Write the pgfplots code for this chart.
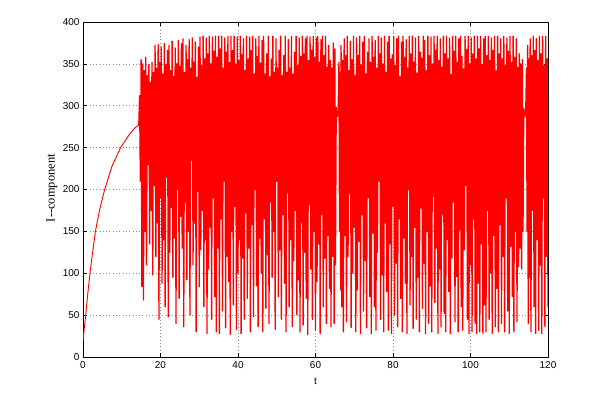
\documentclass[border=0pt]{standalone}
\usepackage{fontspec}
\setmainfont{Liberation Sans}
\newfontfamily\serifl{Liberation Serif}
\usepackage{pgfplots}
\pgfplotsset{compat=1.18}
\begin{document}
\begin{tikzpicture}
\useasboundingbox (-83bp,-44bp) rectangle (528bp,357bp);
\begin{axis}[
  scale only axis, width=465bp, height=335bp,
  xmin=0, xmax=120, ymin=0, ymax=400,
  xtick={0,20,...,120}, ytick={0,50,...,400},
  grid=major,
  major grid style={black!45, dash pattern=on 0.7bp off 2.6bp, line width=0.5bp},
  tick align=inside, major tick length=4bp,
  tick style={black, line width=0.5bp},
  axis line style={black, line width=0.8bp},
  ticklabel style={font=\fontsize{10}{12}\selectfont},
  xticklabel style={yshift=-1.5bp},
  /pgf/number format/assume math mode=true,
  xlabel={t}, ylabel={\serifl I--component},
  xlabel style={at={(axis description cs:0.5,-0.0716)}, anchor=center, font=\fontsize{10}{12}\selectfont},
  ylabel style={at={(axis description cs:-0.0667,0.504)}, anchor=center, font=\fontsize{12.5}{14}\selectfont},
]
\addplot[red, line width=0.9bp, line join=round, mark=none] coordinates {
(0,20)(0.3,33)(0.7,50)(1.2,74)(1.8,100)(2.4,122)(3.2,150)(4.3,176)(5.6,200)(7.5,228)(9.7,250)(12,266)(13.5,274)(14.4,277)
};
\addplot[red, line width=1.3bp, line join=round, mark=none] coordinates {
(14.4,277)
(14.6,312)(14.8,210)(15.0,355)(15.2,84)(15.4,350)(15.6,68)(15.8,342)(16.0,150)(16.2,358)(16.4,110)
(16.6,336)(16.8,230)(17.0,349)(17.2,135)(17.4,328)(17.6,175)(17.8,352)(18.0,98)(18.2,340)(18.4,205)
(18.6,372)(18.8,120)(19.0,345)(19.2,160)(19.4,373)(19.6,45)(19.8,352)(20.0,190)(20.2,370)(20.4,88)
(20.6,338)(20.8,140)(21.0,374)(21.2,60)(21.4,349)(21.6,215)(21.8,366)(22.0,48)(22.2,372)(22.4,125)
(22.6,342)(22.8,178)(23.0,377)(23.2,95)(23.4,335)(23.6,142)(23.8,369)(24.0,40)(24.2,350)(24.4,200)
(24.6,378)(24.8,70)(25.0,347)(25.2,168)(25.4,374)(25.6,130)(25.8,380)(26.0,36)(26.2,340)(26.4,185)
(26.6,372)(26.8,92)(27.0,355)(27.2,150)(27.4,379)(27.6,50)(27.8,345)(28.0,235)(28.2,381)(28.4,110)
(28.6,352)(28.8,160)(29.0,376)(29.2,30)(29.4,334)(29.6,198)(29.8,370)(30.0,84)(30.2,382)(30.4,128)
(30.6,348)(30.8,175)(31.0,383)(31.2,60)(31.4,356)(31.6,140)(31.8,381)(32.0,28)(32.2,362)(32.4,105)
(32.6,383)(32.8,155)(33.0,350)(33.2,45)(33.4,382)(33.6,190)(33.8,365)(34.0,72)(34.2,383)(34.4,30)
(34.6,358)(34.8,130)(35.0,383)(35.2,28)(35.4,368)(35.6,165)(35.8,383)(36.0,55)(36.2,345)(36.4,210)
(36.6,381)(36.8,35)(37.0,364)(37.2,120)(37.4,383)(37.6,90)(37.8,352)(38.0,27)(38.2,383)(38.4,150)
(38.6,366)(38.8,62)(39.0,383)(39.2,180)(39.4,350)(39.6,33)(39.8,382)(40.0,100)(40.2,354)(40.4,140)
(40.6,383)(40.8,28)(41.0,361)(41.2,118)(41.4,380)(41.6,45)(41.8,342)(42.0,172)(42.2,383)(42.4,70)
(42.6,356)(42.8,130)(43.0,382)(43.2,30)(43.4,366)(43.6,158)(43.8,383)(44.0,48)(44.2,338)(44.4,200)
(44.6,380)(44.8,85)(45.0,359)(45.2,36)(45.4,383)(45.6,142)(45.8,351)(46.0,100)(46.2,378)(46.4,30)
(46.6,383)(46.8,165)(47.0,338)(47.2,58)(47.4,362)(47.6,122)(47.8,383)(48.0,40)(48.2,335)(48.4,185)
(48.6,356)(48.8,95)(49.0,383)(49.2,150)(49.4,340)(49.6,33)(49.8,380)(50.0,210)(50.2,345)(50.4,72)
(50.6,366)(50.8,128)(51.0,383)(51.2,45)(51.4,336)(51.6,170)(51.8,360)(52.0,88)(52.2,383)(52.4,30)
(52.6,340)(52.8,196)(53.0,379)(53.2,60)(53.4,345)(53.6,140)(53.8,383)(54.0,36)(54.2,338)(54.4,115)
(54.6,364)(54.8,175)(55.0,383)(55.2,50)(55.4,348)(55.6,92)(55.8,381)(56.0,30)(56.2,359)(56.4,160)
(56.6,383)(56.8,38)(57.0,362)(57.2,125)(57.4,380)(57.6,70)(57.8,383)(58.0,27)(58.2,354)(58.4,182)
(58.6,382)(58.8,105)(59.0,366)(59.2,45)(59.4,383)(59.6,150)(59.8,358)(60.0,32)(60.2,381)(60.4,90)
(60.6,383)(60.8,135)(61.0,352)(61.2,28)(61.4,379)(61.6,170)(61.8,383)(62.0,60)(62.2,360)(62.4,118)
(62.6,383)(62.8,40)(63.0,346)(63.2,145)(63.4,372)(63.6,82)(63.8,354)(64.0,36)(64.2,345)(64.4,120)
(64.6,375)(64.8,40)(65.0,368)(65.15,110)(65.35,298)(65.6,287)(65.85,294)(66.05,352)(66.2,150)(66.35,340)(66.5,80)
(66.6,372)(66.8,60)(67.0,354)(67.2,30)(67.4,380)(67.6,145)(67.8,360)(68.0,42)(68.2,383)(68.4,120)
(68.6,342)(68.8,195)(69.0,377)(69.2,35)(69.4,355)(69.6,100)(69.8,383)(70.0,155)(70.2,336)(70.4,30)
(70.6,381)(70.8,80)(71.0,360)(71.2,138)(71.4,383)(71.6,28)(71.8,349)(72.0,170)(72.2,376)(72.4,55)
(72.6,383)(72.8,115)(73.0,338)(73.2,35)(73.4,364)(73.6,190)(73.8,380)(74.0,72)(74.2,352)(74.4,28)
(74.6,383)(74.8,148)(75.0,358)(75.2,60)(75.4,378)(75.6,32)(75.8,345)(76.0,125)(76.2,383)(76.4,210)
(76.6,362)(76.8,45)(77.0,381)(77.2,98)(77.4,350)(77.6,30)(77.8,383)(78.0,160)(78.2,340)(78.4,78)
(78.6,376)(78.8,32)(79.0,383)(79.2,135)(79.4,356)(79.6,28)(79.8,361)(80.0,180)(80.2,383)(80.4,50)
(80.6,348)(80.8,112)(81.0,380)(81.2,36)(81.4,383)(81.6,165)(81.8,335)(82.0,70)(82.2,376)(82.4,30)
(82.6,383)(82.8,142)(83.0,358)(83.2,88)(83.4,379)(83.6,28)(83.8,345)(84.0,200)(84.2,383)(84.4,62)
(84.6,362)(84.8,120)(85.0,383)(85.2,34)(85.4,352)(85.6,155)(85.8,381)(86.0,45)(86.2,339)(86.4,95)
(86.6,383)(86.8,30)(87.0,364)(87.2,178)(87.4,357)(87.6,58)(87.8,383)(88.0,112)(88.2,378)(88.4,28)
(88.6,342)(88.8,150)(89.0,383)(89.2,40)(89.4,360)(89.6,85)(89.8,382)(90.0,30)(90.2,350)(90.4,192)
(90.6,383)(90.8,65)(91.0,366)(91.2,130)(91.4,383)(91.6,28)(91.8,354)(92.0,105)(92.2,380)(92.4,36)
(92.6,346)(92.8,170)(93.0,383)(93.2,52)(93.4,362)(93.6,30)(93.8,383)(94.0,140)(94.2,356)(94.4,78)
(94.6,381)(94.8,28)(95.0,337)(95.2,118)(95.4,383)(95.6,185)(95.8,365)(96.0,42)(96.2,383)(96.4,96)
(96.6,352)(96.8,30)(97.0,380)(97.2,152)(97.4,383)(97.6,60)(97.8,359)(98.0,32)(98.2,344)(98.4,128)
(98.6,383)(98.8,205)(99.0,367)(99.2,45)(99.4,383)(99.6,28)(99.8,350)(100.0,110)(100.2,381)(100.4,30)
(100.6,362)(100.8,165)(101.0,383)(101.2,40)(101.4,356)(101.6,28)(101.8,383)(102.0,88)(102.2,368)(102.4,30)
(102.6,383)(102.8,135)(103.0,349)(103.2,28)(103.4,380)(103.6,62)(103.8,383)(104.0,30)(104.2,360)(104.4,175)
(104.6,383)(104.8,45)(105.0,354)(105.2,100)(105.4,381)(105.6,28)(105.8,366)(106.0,145)(106.2,383)(106.4,36)
(106.6,342)(106.8,82)(107.0,383)(107.2,30)(107.4,362)(107.6,158)(107.8,380)(108.0,40)(108.2,356)(108.4,120)
(108.6,383)(108.8,30)(109.0,348)(109.2,190)(109.4,381)(109.6,55)(109.8,365)(110.0,28)(110.2,383)(110.4,132)
(110.6,352)(110.8,72)(111.0,383)(111.2,30)(111.4,358)(111.6,150)(111.8,380)(112.0,42)(112.2,346)(112.4,108)
(112.6,362)(112.8,130)(113.0,350)(113.2,105)(113.4,355)(113.55,150)(113.75,297)(114.0,287)(114.25,293)(114.45,345)(114.6,150)
(114.75,372)(114.9,40)(115.0,356)(115.2,95)(115.4,380)(115.6,30)(115.8,360)(116.0,175)(116.2,383)(116.4,60)
(116.6,366)(116.8,28)(117.0,380)(117.2,140)(117.4,354)(117.6,32)(117.8,383)(118.0,110)(118.2,362)(118.4,28)
(118.6,383)(118.8,190)(119.0,348)(119.2,36)(119.4,383)(119.6,120)(119.8,356)(120.0,60)
};
\end{axis}
\end{tikzpicture}
\end{document}
